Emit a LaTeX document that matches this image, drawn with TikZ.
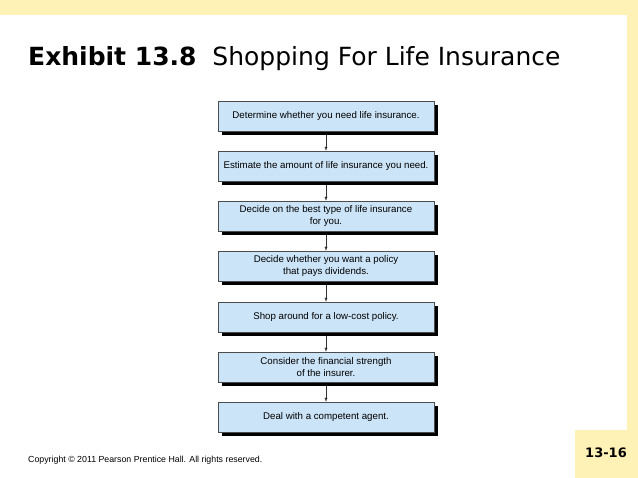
\documentclass[tikz,border=0pt]{standalone}
\usepackage{fontspec}
\setmainfont{Liberation Sans}
\newfontfamily\titlefont{DejaVu Sans}
\usetikzlibrary{positioning,arrows.meta,shadows}
\definecolor{slideyellow}{RGB}{255,242,183}
\definecolor{boxblue}{RGB}{204,228,247}
\tikzset{
  stepbox/.style={draw=black!70, fill=boxblue, minimum width=216pt, minimum height=30pt,
    inner sep=0pt, align=center, font=\fontsize{9.7}{11.5}\selectfont,
    drop shadow={shadow xshift=4pt, shadow yshift=-4pt, fill=black, opacity=1}},
  flowarrow/.style={-{Latex[length=4pt,width=3pt]}, black!80, thin}
}
\begin{document}
\begin{tikzpicture}[x=1pt,y=-1pt]
  \fill[white] (0,0) rectangle (638,478);
  \fill[slideyellow] (0,0) rectangle (638,15);
  \fill[slideyellow] (627,0) rectangle (638,478);
  \fill[slideyellow] (575,430) rectangle (638,478);

  \node[anchor=base west, inner sep=0pt, font=\titlefont\fontsize{25}{30}\selectfont] (title) at (28,66)
    {\textbf{Exhibit 13.8}\ \ Shopping For Life Insurance};

  \node[stepbox] (s1) at (326,116) {Determine whether you need life insurance.};
  \node[stepbox] (s2) at (326,166) {Estimate the amount of life insurance you need.};
  \node[stepbox] (s3) at (326,216) {Decide on the best type of life insurance\\for you.};
  \node[stepbox] (s4) at (326,266) {Decide whether you want a policy\\that pays dividends.};
  \node[stepbox] (s5) at (326,317) {Shop around for a low-cost policy.};
  \node[stepbox] (s6) at (326,367) {Consider the financial strength\\of the insurer.};
  \node[stepbox] (s7) at (326,417) {Deal with a competent agent.};

  \foreach \a/\b in {s1/s2,s2/s3,s3/s4,s4/s5,s5/s6,s6/s7}
    \draw[flowarrow] ([yshift=-4pt]\a.south) -- (\b.north);

  \node[anchor=base west, inner sep=0pt, font=\fontsize{8.8}{10}\selectfont] (copy) at (28,463)
    {Copyright © 2011 Pearson Prentice Hall. All rights reserved.};
  \node[font=\titlefont\bfseries\fontsize{13}{15}\selectfont] (page) at (606,453) {13-16};
\end{tikzpicture}
\end{document}
